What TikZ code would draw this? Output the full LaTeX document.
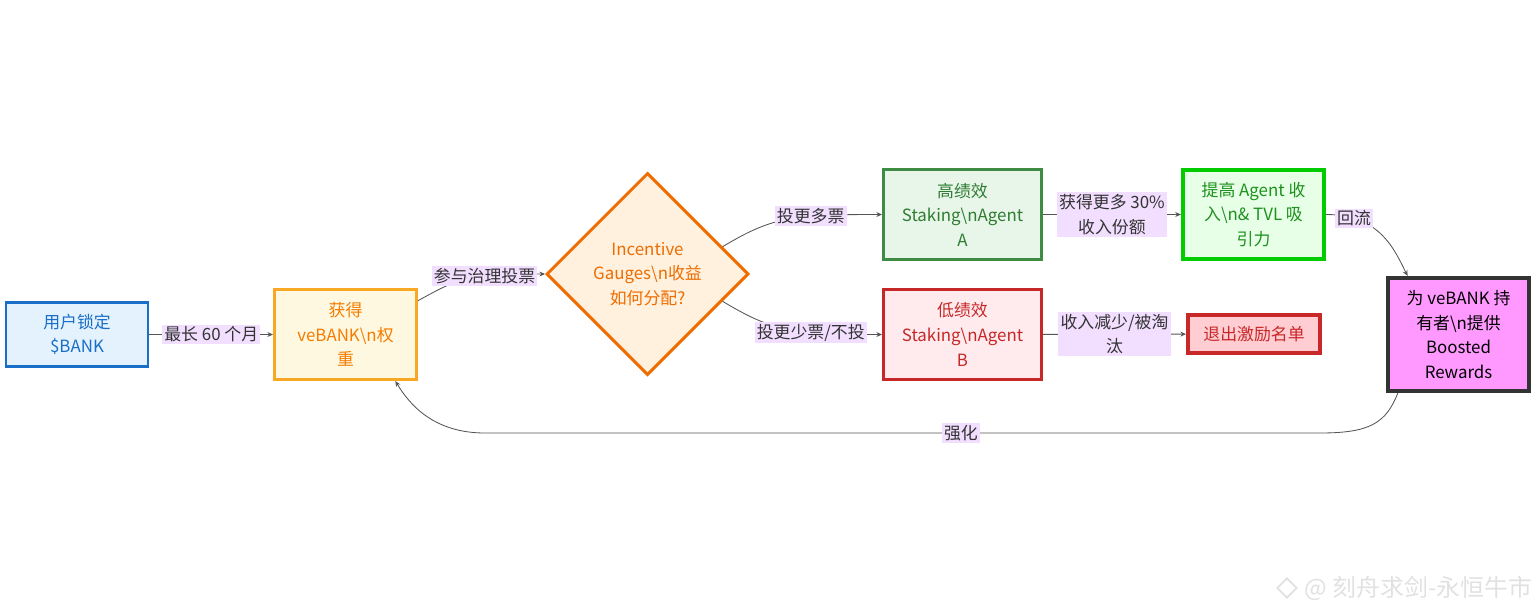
\documentclass[tikz,border=0pt]{standalone}
\usepackage{fontspec}
\setmainfont{Noto Sans CJK SC}
\usepackage{xcolor}
\usepackage{tikz}
\usetikzlibrary{arrows.meta, shapes.geometric}
\definecolor{lockfill}{RGB}{227,242,253}
\definecolor{lockdraw}{RGB}{25,110,200}
\definecolor{weightfill}{RGB}{255,248,225}
\definecolor{weightdraw}{RGB}{249,168,37}
\definecolor{weighttext}{RGB}{245,124,0}
\definecolor{gaugefill}{RGB}{255,241,222}
\definecolor{gaugedraw}{RGB}{239,108,0}
\definecolor{highfill}{RGB}{232,245,233}
\definecolor{highdraw}{RGB}{62,140,68}
\definecolor{hightext}{RGB}{46,125,50}
\definecolor{lowfill}{RGB}{255,235,238}
\definecolor{lowdraw}{RGB}{198,40,40}
\definecolor{boostfill}{RGB}{230,255,230}
\definecolor{boostdraw}{RGB}{0,204,0}
\definecolor{boosttext}{RGB}{30,145,30}
\definecolor{exitfill}{RGB}{255,205,210}
\definecolor{exitdraw}{RGB}{200,40,40}
\definecolor{rewardfill}{RGB}{255,153,255}
\definecolor{rewarddraw}{RGB}{51,51,51}
\definecolor{lblfill}{RGB}{242,222,255}
\definecolor{lbltext}{RGB}{51,51,51}
\definecolor{edgegray}{RGB}{85,85,85}
\definecolor{wmgray}{RGB}{225,225,225}
\newcommand{\bsn}{\textbackslash n}

\begin{document}
\begin{tikzpicture}[
    x=0.025cm, y=-0.025cm,
    >={Stealth[length=4pt, width=3.5pt]},
    every node/.style={font=\fontsize{12pt}{17.5pt}\selectfont, align=center},
    box/.style={rectangle, line width=2.1pt, inner sep=2pt},
    flow/.style={->, draw=edgegray, line width=0.6pt},
    lbl/.style={fill=lblfill, text=lbltext, inner sep=1.5pt},
]
    \useasboundingbox (0,0) rectangle (1536,614);

    % Lock and voting weight
    \node[box, draw=lockdraw, fill=lockfill, text=lockdraw, minimum width=3.55cm, minimum height=1.6cm]
        (lock) at (77,334.5) {用户锁定\\\$BANK};
    \node[box, draw=weightdraw, fill=weightfill, text=weighttext, minimum width=3.55cm, minimum height=2.25cm]
        (weight) at (345.5,334.5) {获得\\veBANK\bsn 权\\重};

    % Gauge decision
    \node[diamond, draw=gaugedraw, fill=gaugefill, text=gaugedraw, line width=2.1pt,
        minimum width=5.05cm, minimum height=5.05cm, inner sep=0pt]
        (gauge) at (647.5,274) {Incentive\\Gauges\bsn 收益\\如何分配?};

    % Agents
    \node[box, draw=highdraw, fill=highfill, text=hightext, minimum width=3.95cm, minimum height=2.25cm]
        (agentA) at (962.5,214.5) {高绩效\\Staking\bsn Agent\\A};
    \node[box, draw=lowdraw, fill=lowfill, text=lowdraw, minimum width=3.95cm, minimum height=2.25cm]
        (agentB) at (962.5,334.5) {低绩效\\Staking\bsn Agent\\B};

    % Outcomes
    \node[box, draw=boostdraw, fill=boostfill, text=boosttext, line width=2.8pt, minimum width=3.53cm, minimum height=2.23cm]
        (boost) at (1253.5,214.5) {提高 Agent 收\\入\bsn\& TVL 吸\\引力};
    \node[box, draw=exitdraw, fill=exitfill, text=exitdraw, line width=2.8pt, minimum width=3.3cm, minimum height=0.95cm]
        (exit) at (1254,334) {退出激励名单};
    \node[box, draw=rewarddraw, fill=rewardfill, text=black, line width=2.8pt, minimum width=3.53cm, minimum height=2.83cm]
        (rewards) at (1458.5,334.5) {为 veBANK 持\\有者\bsn 提供\\Boosted\\Rewards};

    % Connectors
    \draw[flow] (lock) -- node[lbl] {最长 60 个月} (weight);
    \draw[flow] (weight.25) .. controls +(40,-22) and +(-80,0) .. node[lbl, pos=0.66] {参与治理投票} (gauge.west);
    \draw[flow] (gauge.20) .. controls +(50,-30) and +(-90,0) .. node[lbl, pos=0.66] {投更多票} (agentA.west);
    \draw[flow] (gauge.-20) .. controls +(50,30) and +(-90,0) .. node[lbl, pos=0.66] {投更少票/不投} (agentB.west);
    \draw[flow] (agentA) -- node[lbl] {获得更多 30\%\\收入份额} (boost);
    \draw[flow] (agentB) -- node[lbl] {收入减少/被淘\\汰} (exit);
    \draw[flow] (boost.east) .. controls +(54,0) and +(-13,-26) .. node[lbl, pos=0.2] {回流} (rewards.131);

    % Feedback loop
    \coordinate (loopR) at (1320,433);
    \coordinate (loopL) at (485,433);
    \draw[flow] (rewards.224) .. controls +(-12,30) and +(50,0) .. (loopR)
        -- node[lbl, pos=0.43] {强化} (loopL)
        .. controls +(-50,0) and +(15,25) .. (weight.-43);

    % Watermark
    \node[diamond, draw=wmgray, line width=1.2pt, minimum size=0.5cm, inner sep=0pt] (logo) at (1287,588) {};
    \node[text=wmgray, font=\fontsize{17pt}{20pt}\selectfont, anchor=west] (mark) at (1300,588) {@ 刻舟求剑-永恒牛市};
\end{tikzpicture}
\end{document}
